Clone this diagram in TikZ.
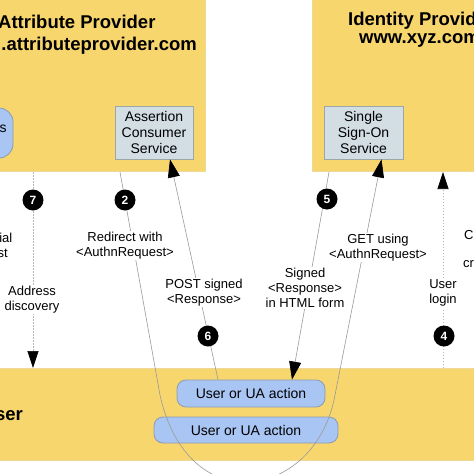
\documentclass[tikz,border=0pt]{standalone}
\usepackage{fontspec}
\setmainfont{Liberation Sans}
\usetikzlibrary{arrows.meta}
\definecolor{lane}{HTML}{F8D66E}
\definecolor{laneedge}{HTML}{EFD89A}
\definecolor{svcfill}{HTML}{D3DDE4}
\definecolor{svcedge}{HTML}{9BA8A6}
\definecolor{uafill}{HTML}{A9C5F3}
\definecolor{uaedge}{HTML}{8C9BB3}
\definecolor{flow}{HTML}{9A9A9A}
\definecolor{dots}{HTML}{B8B8B8}
\begin{document}
\begin{tikzpicture}[x=1pt,y=-1pt,
  lanebox/.style={fill=lane,draw=laneedge,line width=1pt,inner sep=0pt},
  svc/.style={draw=svcedge,fill=svcfill,line width=0.8pt,minimum width=78pt,minimum height=53pt,align=center,font=\fontsize{14}{16}\selectfont,inner sep=0pt},
  ua/.style={draw=uaedge,fill=uafill,rounded corners=9pt,line width=0.8pt,font=\fontsize{14}{16}\selectfont,inner sep=0pt},
  ttl/.style={font=\bfseries\fontsize{18.5}{22}\selectfont,inner sep=0pt},
  lbl/.style={font=\fontsize{13}{14.8}\selectfont,align=center,fill=white,inner sep=1.5pt},
  edgetxt/.style={font=\fontsize{13}{15}\selectfont,inner sep=0pt},
  num/.style={circle,fill=black,text=white,font=\bfseries\fontsize{12}{12}\selectfont,minimum size=21pt,inner sep=0pt},
  flowline/.style={draw=flow,line width=0.6pt},
  dotline/.style={draw=dots,line width=0.7pt,dash pattern=on 1.5pt off 1.5pt},
  bigtip/.style={-{Triangle[length=18pt,width=12pt,color=black]}},
  dottip/.style={-{Triangle[length=17pt,width=11pt,color=black]}},
]
\useasboundingbox (0,0) rectangle (474,474);
\clip (0,0) rectangle (474,474);
\fill[white] (0,0) rectangle (474,474);

% swimlanes
\node[lanebox,minimum width=266pt,minimum height=176pt,anchor=south east] (ap) at (206,172) {};
\node[lanebox,minimum width=228pt,minimum height=176pt,anchor=south west] (idp) at (312,172) {};
\node[lanebox,minimum width=494pt,minimum height=92pt,anchor=north west] (lane) at (-10,368) {};

% titles
\node[ttl,anchor=base west] (t1) at (-2,28) {Attribute Provider};
\node[ttl,anchor=base east] (t2) at (197,50) {.attributeprovider.com};
\node[ttl,anchor=base west] (t3) at (348,25) {Identity Provider};
\node[ttl,anchor=base west] (t4) at (359,43) {www.xyz.com};
\node[ttl,anchor=base east] (t5) at (23,420) {ser};

% left blue shape
\node[ua,minimum width=66pt,minimum height=50pt,rounded corners=14pt] (ws) at (-20,133) {};
\node[font=\fontsize{14}{16}\selectfont,inner sep=0pt] (wst) at (3,129) {s};

% services
\node[svc] (acs) at (154,132.5) {Assertion\\Consumer\\Service};
\node[svc,minimum width=79pt] (sso) at (363.5,132.5) {Single\\Sign-On\\Service};

% user actions
\node[ua,minimum width=148pt,minimum height=27pt] (ua1) at (251,393.5) {User or UA action};
\node[ua,minimum width=184pt,minimum height=26pt] (ua2) at (246,430) {User or UA action};

% connection points
\path (ap.south east) ++(-86,0) coordinate (a2);
\path (ap.south east) ++(-173,0) coordinate (a7);
\path (idp.south west) ++(17,0) coordinate (i5);
\path (idp.south west) ++(131,0) coordinate (i4);
\path (lane.north west) ++(43,0) coordinate (b7);
\path (lane.north west) ++(453,0) coordinate (b4);
\path (ua1.north) ++(41,0) coordinate (u5);
\path (ua1.north) ++(-33,0) coordinate (u6);
\path (acs.south) ++(16,0) coordinate (c6);
\path (sso.south) ++(18,0) coordinate (s3);
\coordinate (l2) at (160,395);
\coordinate (bot) at (245,482);
\coordinate (r3) at (335,395);

% flows
\draw[flowline,bigtip] (a2) -- (l2) .. controls (172,450) and (205,482) .. (bot)
   .. controls (285,482) and (325,450) .. (r3) -- (s3);
\draw[flowline,bigtip] (i5) -- (u5);
\draw[flowline,bigtip] (u6) -- (c6);
\draw[dotline,dottip] (a7) -- (b7);
\draw[dotline,dottip] (b4) -- (i4);

% labels
\node[lbl] (l2t) at (125,245.5) {Redirect with\\<AuthnRequest>};
\node[lbl] (l7t) at (32,299.5) {Address\\discovery};
\node[lbl] (l6t) at (204,292.5) {POST signed\\<Response>};
\node[lbl] (l5t) at (305,288) {Signed\\<Response>\\in HTML form};
\node[lbl] (l3t) at (378,247.5) {GET using\\<AuthnRequest>};
\node[lbl] (l4t) at (443,293) {User\\login};
\node[edgetxt,anchor=base east] (e1) at (12.5,242) {ial};
\node[edgetxt,anchor=base east] (e2) at (8,257) {st};
\node[edgetxt,anchor=base west] (e3) at (464,239) {C};
\node[edgetxt,anchor=base west] (e4) at (463,267) {cr};

% numbers
\node[num] (n7) at (33,200) {7};
\node[num] (n2) at (125,200) {2};
\node[num] (n6) at (208,336) {6};
\node[num] (n5) at (327,199) {5};
\node[num] (n4) at (444,336) {4};
\end{tikzpicture}
\end{document}
